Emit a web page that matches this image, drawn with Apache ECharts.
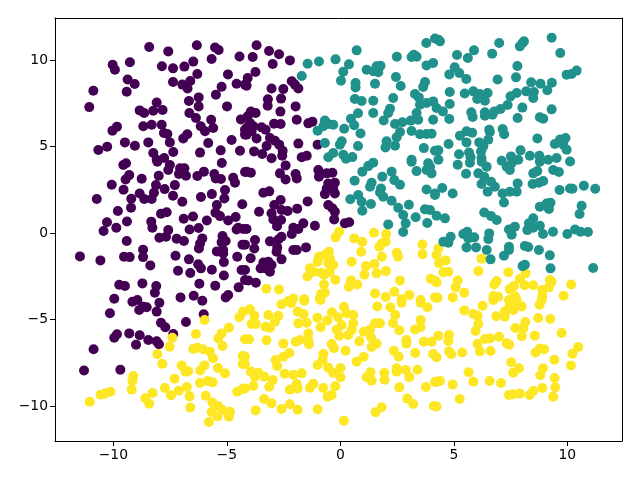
<!DOCTYPE html>
<html>
<head>
<meta charset="utf-8">
<script src="https://cdn.jsdelivr.net/npm/echarts@6/dist/echarts.min.js"></script>
<style>html,body{margin:0;padding:0;background:#fff}#c{width:641px;height:480px}</style>
</head>
<body>
<div id="c"></div>
<script>
const xTicks = [-10, -5, 0, 5, 10];
const yTicks = [-10, -5, 0, 5, 10];
const purple = [
[-8.42,10.75],[-7.58,10.5],[-6.32,10.85],[-5.52,10.73],[-5.36,10.58],[-5.67,10.06],[-4.44,10.2],[-9.27,9.87],[-10.03,9.73],[-9.93,9.44],[-7.86,9.64],[-7.37,9.52],[-6.87,9.62],[-6.48,9.91],[-6.3,9.19],[-4.95,9.17],[-9.37,8.88],[-9.06,8.61],[-7.37,8.73],[-6.96,8.58],[-6.61,8.79],[-6.73,8.35],[-4.57,8.63],[-4.2,8.58],[-5.23,8.46],[-10.88,8.23],[-9.41,8.17],[-5.48,8.0],[-6.24,7.84],[-6.67,7.63],[-11.06,7.28],[-8.09,7.55],[-6.24,7.32],[-4.99,7.32],[-8.84,7.09],[-8.64,6.94],[-8.24,7.07],[-7.83,7.11],[-6.65,6.94],[-6.36,6.65],[-5.69,6.55],[-4.38,6.57],[-6.15,6.17],[-5.6,6.07],[-5.96,5.88],[-9.84,6.15],[-10.04,5.92],[-8.68,6.17],[-8.31,6.26],[-7.87,6.26],[-7.77,5.78],[-7.62,5.72],[-6.74,5.71],[-6.92,5.47],[-4.2,5.97],[-4.2,5.69],[-4.79,5.38],[-8.46,5.24],[-7.51,5.24],[-9.49,5.24],[-9.05,5.05],[-10.27,4.99],[-10.66,4.8],[-5.82,5.2],[-6.18,4.65],[-5.27,4.78],[-4.42,4.76],[-8.24,4.63],[-7.36,4.68],[-7.76,4.34],[-8.09,4.24],
[-3.69,10.85],[-3.14,10.52],[-2.7,10.33],[-3.86,10.18],[-2.98,9.77],[-2.22,9.98],[-3.74,9.31],[-4.08,8.96],[-4.13,8.52],[-2.14,8.77],[-2.0,8.58],[-1.85,8.35],[-3.03,8.36],[-2.51,8.33],[-3.19,7.73],[-2.61,7.77],[-3.2,7.36],[-1.97,7.32],[-2.64,7.02],[-3.94,7.03],[-3.73,6.94],[-4.08,6.75],[-1.92,6.55],[-1.41,6.34],[-1.23,6.44],[-2.92,6.32],[-2.63,6.3],[-3.98,6.36],[-3.83,6.17],[-4.13,6.07],[-3.91,5.88],[-4.13,5.69],[-3.47,6.11],[-3.29,5.97],[-3.69,5.47],[-3.1,5.49],[-2.88,5.34],[-2.69,5.11],[-3.25,5.03],[-1.85,5.17],[-1.0,5.11],[-3.8,4.72],[-3.44,4.57],[-2.54,4.76],[-2.56,4.47],[-3.03,4.32],[-1.7,4.38],[-1.48,4.47],
[-9.56,3.93],[-9.44,4.03],[-8.06,4.12],[-7.51,3.93],[-7.58,3.64],[-7.06,3.74],[-6.87,3.74],[-7.11,3.41],[-6.8,3.31],[-8.0,3.31],[-9.3,3.35],[-9.46,3.1],[-8.75,3.14],[-6.3,3.3],[-6.01,3.55],[-5.55,3.41],[-5.49,3.16],[-5.26,3.12],[-5.22,4.05],[-4.72,3.2],[-4.64,2.91],[-4.2,3.53],[-10.07,2.79],[-9.55,2.5],[-8.12,2.77],[-7.74,2.54],[-7.29,2.77],[-8.84,2.29],[-8.21,2.33],[-7.37,2.16],[-5.08,2.49],[-5.66,2.25],[-6.14,2.08],[-5.11,2.0],[-10.73,1.97],[-9.21,1.98],[-8.64,1.97],[-8.31,1.97],[-6.96,1.81],[-5.44,1.62],[-4.32,1.66],[-9.22,1.46],[-9.8,1.27],[-7.9,1.12],[-7.65,1.2],[-5.5,1.18],[-5.3,0.98],[-6.49,0.96],[-6.9,0.83],[-5.88,0.73],[-4.94,0.73],[-4.61,0.93],[-10.28,0.62],[-9.4,0.67],[-8.33,0.66],[-9.87,0.31],[-10.43,0.12],[-8.28,0.31],[-7.58,0.17],[-6.64,0.21],[-6.24,0.29],[-4.5,0.31],[-4.57,0.21],[-4.28,0.23],[-7.68,-0.21],[-7.97,-0.27],[-7.21,-0.33],[-6.89,-0.46],[-9.41,-0.46],[-6.08,-0.31],[-6.18,-0.6],[-5.19,-0.17],[-5.05,-0.46],[-5.23,-0.54],[-4.31,-0.67],[-6.23,-0.89],[-8.69,-0.96],[-5.44,-1.06],[-5.16,-0.98],[-5.16,-1.18],[-11.47,-1.35],[-10.57,-1.58],[-9.53,-1.37],[-9.28,-1.39],[-8.69,-1.39],[-7.26,-1.31],[-6.67,-1.52],[-4.54,-1.37],[-5.13,-1.68],[-8.37,-1.87],[-6.26,-1.81],[-6.14,-2.04],[-5.66,-2.12],[-7.15,-2.18],[-6.61,-2.31],[-4.35,-2.14],[-5.13,-2.45],[-9.74,-2.99],[-9.49,-3.06],[-8.72,-2.91],[-8.11,-3.06],[-8.17,-3.45],[-6.21,-2.93],[-5.51,-3.04],[-4.48,-3.14],[-4.2,-2.72],[-9.96,-3.8],[-9.16,-3.97],[-8.94,-3.87],[-7.04,-3.72],[-6.46,-3.62],[-6.08,-3.91],[-4.94,-3.58],[-5.05,-3.72],[-7.97,-4.03],
[-8.68,-4.26],[-8.53,-4.29],[-8.86,-4.45],[-8.09,-4.54],[-10.15,-4.64],[-6.02,-4.7],[-6.8,-5.14],[-7.9,-5.18],[-7.71,-5.45],[-7.36,-5.84],[-9.3,-5.8],[-9.84,-5.85],[-9.96,-6.05],[-8.84,-5.91],[-8.46,-6.18],[-8.09,-6.26],[-7.99,-6.43],[-9.0,-6.45],[-10.87,-6.72],[-11.29,-7.94],[-9.69,-7.9],
[-4.13,3.55],[-3.94,3.49],[-2.41,3.91],[-2.66,3.45],[-2.41,3.1],[-1.97,3.41],[-1.92,3.16],[-0.97,3.64],[-0.94,3.26],[-0.6,3.45],[-0.35,3.49],[-0.53,2.87],[-0.24,2.91],[-0.6,2.58],[-0.31,2.52],[-0.68,2.25],[-0.24,2.29],[-3.39,2.33],[-3.13,2.41],[-2.63,1.91],[-2.91,1.62],[-1.44,1.83],[-1.9,1.41],[-2.59,1.33],[-2.32,1.27],[-3.58,1.23],[-3.03,1.14],[-2.95,0.79],[-2.61,0.75],[-2.79,0.39],[-0.53,1.62],[-0.35,1.43],[-0.24,1.23],[-0.27,0.79],[0.2,0.56],[0.39,0.62],[-1.63,0.56],[-1.12,0.42],[-2.07,0.31],[-1.85,0.23],[-2.14,-0.06],[-4.13,0.23],[-3.76,-0.4],[-4.2,-0.67],[-3.1,-0.48],[-2.59,-0.21],[-2.73,-0.37],[-3.79,-0.89],[-2.78,-0.83],[-2.81,-1.08],[-1.51,-0.83],[-2.07,-0.98],[-1.92,-0.98],[-3.95,-1.46],[-2.59,-1.52],[-3.39,-1.7],[-3.17,-1.66],[-3.03,-1.85],[-3.51,-2.04],[-3.29,-2.04],[-3.1,-2.24],[-4.2,-2.14],[-4.05,-2.74],[-3.72,-2.87]
];
const teal = [
[0.72,10.56],[-1.44,9.79],[-0.94,9.92],[-0.21,10.04],[0.38,9.75],[0.13,9.33],[0.03,8.81],[-1.7,9.08],[1.16,9.44],[1.45,9.35],[1.6,9.64],[1.77,9.67],[1.67,9.29],[2.49,10.19],[3.14,10.18],[3.24,10.31],[3.36,10.19],[3.79,10.98],[4.17,11.24],[3.8,9.69],[4.09,9.83],[2.45,9.02],[2.66,8.5],[1.53,8.63],[0.67,8.67],[0.67,8.42],[3.73,8.73],[3.65,8.44],[2.33,7.81],[0.64,7.75],[0.94,7.63],[1.45,7.65],[3.29,8.04],[3.46,7.84],[3.51,7.42],[3.8,7.52],[4.09,7.61],[2.19,7.19],[2.11,6.94],[0.78,6.92],[1.45,6.94],[3.36,6.94],[0.47,6.61],[1.91,6.51],[2.41,6.3],[2.73,6.4],[3.1,6.5],[3.43,6.55],[4.09,6.55],[0.61,6.23],[-0.68,6.51],[-0.53,6.3],[-0.31,6.26],[-0.75,6.17],[-1.0,5.92],[0.17,6.03],[0.89,5.76],[2.63,5.84],[3.14,5.9],[3.51,5.71],[3.8,5.72],[4.02,5.74],[2.48,5.53],[-0.68,5.2],[0.06,5.3],[-0.02,5.11],[0.78,5.03],[2.04,5.3],[1.99,4.95],[2.41,5.05],[3.68,4.91],[-0.31,4.63],[-0.53,4.38],[0.13,4.53],[0.53,4.39],[0.25,4.3],[3.14,4.24],[4.17,4.76],
[4.32,11.18],[4.39,11.08],[5.14,10.29],[5.89,10.56],[5.62,10.12],[7.0,10.98],[6.69,10.37],[8.09,11.08],[8.02,10.97],[7.91,10.79],[9.31,11.29],[9.69,10.41],[5.04,9.58],[5.24,9.25],[4.8,9.17],[5.55,8.9],[7.8,9.66],[7.74,9.0],[6.93,8.88],[10.41,9.39],[10.19,9.19],[9.97,9.15],[8.41,8.71],[8.82,8.63],[9.32,8.69],[4.82,8.15],[5.48,8.07],[5.86,8.19],[6.15,8.04],[6.49,8.09],[6.03,7.75],[6.37,7.65],[7.77,8.09],[7.5,7.9],[8.19,8.19],[8.53,8.15],[8.5,7.81],[9.12,8.25],[4.82,7.46],[7.37,7.4],[8.02,7.25],[7.06,7.17],[6.78,7.03],[6.7,6.84],[6.37,6.98],[6.37,6.78],[9.31,7.15],[5.77,6.98],[5.83,6.71],[7.81,6.65],[8.79,6.69],[8.94,6.61],[4.52,7.03],[4.24,7.23],[4.8,6.59],[6.56,5.97],[6.59,5.84],[7.15,6.01],[7.22,5.71],[5.56,5.88],[5.81,5.8],[5.27,5.63],[5.56,5.24],[6.52,5.4],[6.12,5.24],[6.3,5.01],[4.77,5.15],[8.68,5.47],[9.92,5.49],[9.68,5.4],[9.45,5.15],[9.82,5.11],[9.97,4.82],[4.32,4.78],[5.23,4.55],[5.67,4.66],[5.74,4.38],[6.2,4.72],[6.22,4.34],[7.94,4.78],[7.52,4.43],[8.35,4.47],[8.77,4.47],[9.53,4.34],[7.11,4.18],[7.84,4.24],[9.16,4.24],[10.12,4.14],[4.32,4.24],
[1.45,4.07],[1.23,3.87],[0.97,3.55],[1.85,3.26],[2.26,3.55],[2.38,3.06],[2.63,2.79],[0.63,3.03],[1.38,2.91],[1.31,2.68],[1.79,2.58],[1.75,2.35],[1.89,2.1],[2.26,1.87],[0.79,2.2],[0.44,1.95],[0.94,1.81],[1.35,1.68],[0.97,1.29],[3.02,1.64],[2.55,1.46],[2.77,1.04],[3.32,0.91],[3.73,1.37],[3.95,1.33],[3.83,0.58],[2.88,0.56],[2.11,0.5],[2.77,0.06],[3.36,3.58],[3.14,4.12],[3.87,4.03],[3.95,3.83],[3.8,3.64],[4.02,3.45],[3.8,2.52],[4.17,2.29],
[5.17,3.95],[5.71,4.07],[6.23,4.12],[6.45,3.83],[7.33,3.83],[7.47,3.64],[7.55,4.03],[8.79,4.12],[5.54,3.43],[6.08,3.45],[6.34,3.26],[6.22,2.83],[6.64,2.97],[6.81,2.68],[6.49,2.39],[8.5,3.45],[8.68,3.58],[9.38,3.64],[9.63,3.53],[8.47,2.83],[8.75,2.91],[8.94,3.01],[7.81,2.87],[7.77,2.39],[7.47,2.39],[7.15,2.29],[7.21,1.77],[9.66,2.49],[10.12,2.58],[10.23,2.56],[10.73,2.74],[11.23,2.56],[4.49,2.6],[4.95,2.29],[4.17,2.2],[6.34,1.19],[6.64,0.98],[6.89,0.75],[4.24,1.0],[4.61,0.85],[8.79,1.52],[9.09,1.71],[9.26,1.75],[9.19,1.39],[10.63,1.58],[10.54,1.1],[8.5,0.85],[8.31,0.56],[8.79,0.42],[8.24,0.17],[8.5,0.31],[7.69,0.37],[7.43,0.21],[7.55,-0.1],[8.93,-0.06],[9.37,0.08],[10.0,-0.06],[10.34,0.21],[10.58,0.08],[10.91,0.06],[5.59,0.08],[5.42,-0.06],[5.64,-0.31],[5.9,-0.25],[6.56,-0.02],[6.52,-0.35],[4.86,-0.21],[4.54,-0.5],[4.76,-0.56],[5.56,-0.83],[5.98,-0.83],[6.45,-0.98],[7.43,-0.79],[7.43,-0.98],[8.13,-0.75],[8.28,-0.81],[8.75,-0.98],[9.23,-1.29],[7.21,-1.31],[6.62,-1.52],[8.13,-1.83],[8.03,-1.91],[9.26,-2.04],[11.14,-2.02]
];
const yellow = [
[-5.98,-5.03],[-4.45,-4.87],[-4.28,-4.54],[-4.91,-5.47],[-5.23,-5.8],[-5.38,-6.09],[-6.36,-5.84],[-7.4,-6.05],[-7.52,-6.57],[-5.19,-6.53],[-6.48,-6.7],[-6.3,-6.63],[-6.05,-6.72],[-5.74,-6.86],[-5.61,-7.24],[-4.2,-6.14],[-4.3,-7.11],[-4.3,-7.57],[-8.06,-7.01],[-7.84,-7.55],[-6.99,-7.65],[-6.82,-8.01],[-6.7,-7.99],[-5.99,-7.65],[-6.17,-7.94],[-5.39,-7.8],[-5.08,-8.11],[-9.12,-8.26],[-9.16,-8.55],[-9.19,-9.05],[-7.3,-8.42],[-7.73,-8.96],[-6.76,-8.9],[-7.12,-9.11],[-7.46,-9.38],[-8.27,-9.25],[-8.59,-9.55],[-8.42,-9.86],[-6.64,-9.44],[-6.61,-10.09],[-6.18,-8.67],[-5.85,-8.55],[-5.63,-8.63],[-5.93,-9.4],[-4.54,-9.17],[-4.32,-9.03],[-5.64,-9.79],[-5.38,-10.0],[-5.19,-10.23],[-4.86,-10.33],[-5.67,-10.34],[-5.41,-10.6],[-4.91,-10.61],[-5.79,-10.92],[-10.13,-9.17],[-10.37,-9.27],[-10.56,-9.34],[-11.04,-9.75],
[-2.59,-4.12],[-2.16,-4.04],[-1.59,-3.91],[-0.87,-3.87],[0.16,-4.26],[1.63,-4.24],[2.21,-4.29],[2.7,-4.02],[3.54,-4.02],[3.84,-4.29],[-3.98,-4.41],[-3.79,-4.78],[-3.17,-4.74],[-2.73,-4.78],[-1.88,-4.54],[-1.62,-4.68],[-1.01,-4.89],[-0.37,-4.58],[-0.1,-4.87],[0.28,-4.64],[0.57,-4.74],[-0.57,-5.06],[2.42,-4.74],[3.54,-5.03],[-3.91,-5.26],[-3.72,-5.26],[-2.88,-5.12],[-3.29,-5.41],[-3.1,-5.47],[-1.85,-5.22],[-1.48,-5.18],[-0.87,-5.45],[0.06,-5.32],[0.57,-5.22],[-0.16,-5.57],[1.75,-5.22],[1.53,-5.22],[1.31,-5.57],[1.03,-5.7],[2.32,-5.2],[2.6,-5.62],[3.29,-5.57],[3.54,-5.45],[-1.41,-5.8],[0.5,-5.6],[0.35,-5.89],[-0.05,-5.93],[-4.02,-6.14],[-3.25,-6.2],[-2.51,-6.39],[-1.97,-6.28],[-1.78,-6.18],[-1.41,-6.18],[-1.38,-6.43],[-0.38,-6.41],[-0.28,-6.66],[0.84,-6.26],[1.35,-6.03],[1.6,-6.39],[1.38,-6.59],[2.91,-6.18],[2.91,-6.39],[3.68,-6.28],[4.02,-6.28],[0.23,-6.8],[2.36,-6.8],[2.57,-7.15],[3.3,-6.93],[4.09,-6.99],[-2.25,-6.93],[-2.51,-7.15],[-2.85,-7.34],[-2.78,-7.69],[-0.75,-6.99],[-0.78,-7.34],[-1.0,-7.63],[1.03,-7.15],[0.72,-7.43],[-4.2,-7.15],[-4.2,-7.57],[-0.53,-7.78],[0.01,-7.8],[-0.31,-8.09],[0.01,-8.34],[-3.94,-8.01],[-3.61,-8.07],[-3.76,-8.3],[-3.35,-8.3],[-2.98,-8.5],[-2.45,-8.13],[-2.07,-8.19],[-1.7,-8.11],[1.33,-8.05],[1.16,-8.34],[1.38,-8.53],[1.94,-8.09],[1.95,-8.48],[2.48,-7.82],[2.48,-8.01],[2.88,-7.92],[3.04,-8.34],[3.4,-7.9],[-3.83,-8.84],[-3.13,-8.88],[-4.2,-8.98],[-2.22,-9.05],[-1.92,-8.73],[-1.88,-8.98],[-1.19,-8.71],[-1.34,-8.94],[-0.75,-8.96],[-0.22,-8.86],[2.6,-8.92],[3.77,-8.9],[4.17,-8.61],[-0.38,-9.36],[-0.56,-9.46],[-3.36,-9.59],[-3.03,-9.84],[-2.22,-9.9],[-3.73,-10.25],[-2.59,-10.17],[-1.88,-10.21],[-1.0,-10.19],[2.95,-9.57],[3.21,-9.88],[4.12,-10.0],[1.82,-10.07],[1.55,-10.36],[0.16,-10.85],
[5.46,-4.47],[6.27,-4.2],[5.86,-4.68],[6.05,-4.78],[6.87,-4.81],[7.25,-4.54],[7.47,-4.06],[7.69,-4.06],[7.43,-4.35],[7.62,-4.45],[7.25,-4.83],[7.99,-4.24],[8.78,-4.14],[8.72,-4.91],[9.25,-4.97],[6.08,-5.26],[5.96,-5.66],[8.15,-5.14],[7.71,-5.49],[8.06,-5.51],[8.0,-5.97],[8.57,-5.93],[9.75,-5.78],[4.32,-5.93],[4.79,-5.89],[4.76,-6.24],[6.37,-6.12],[6.59,-6.09],[6.99,-5.99],[6.05,-6.41],[7.33,-6.37],[7.44,-6.45],[10.48,-6.59],[10.23,-6.97],[4.79,-6.84],[4.89,-7.01],[5.37,-6.9],[6.15,-6.84],[6.62,-6.82],[8.6,-6.9],[8.79,-6.68],[8.98,-6.72],[9.43,-7.32],[4.24,-7.18],[7.53,-7.47],[10.16,-7.65],[7.87,-7.82],[7.62,-8.07],[5.65,-8.05],[8.93,-7.82],[8.81,-8.22],[9.44,-8.38],[9.47,-8.92],[8.9,-8.96],[5.86,-8.59],[6.58,-8.55],[7.08,-8.67],[4.39,-8.55],[4.24,-8.59],[4.95,-8.76],[8.5,-9.13],[8.34,-9.36],[7.91,-9.28],[7.43,-9.36],[7.62,-9.32],[9.38,-9.46],[5.26,-9.59],[4.24,-10.02],
[-0.05,0.08],[-0.21,-0.25],[0.61,-0.31],[0.97,-0.5],[1.48,0.02],[2.02,-0.06],[2.0,-0.5],[1.82,-0.6],[1.72,-0.79],[0.92,-1.08],[3.62,-0.66],[3.62,-1.23],[2.49,-1.14],[2.54,-1.37],[1.83,-1.37],[-0.5,-1.08],[-0.68,-1.27],[-0.94,-1.37],[-1.0,-1.66],[-0.46,-1.46],[-0.31,-1.85],[-0.53,-1.75],[0.5,-1.66],[1.5,-1.79],[1.13,-1.91],[-1.34,-2.04],[-1.19,-2.24],[-1.45,-2.51],[-0.85,-2.29],[-0.71,-2.43],[-0.47,-2.24],[2.01,-2.2],[1.6,-2.33],[1.06,-2.41],[-0.22,-2.7],[-0.72,-2.97],[2.63,-2.74],[3.98,-2.64],[4.17,-2.76],[0.47,-2.74],[0.38,-3.1],[0.75,-2.97],[-3.26,-3.22],[-2.7,-3.26],[-0.68,-3.45],[-0.85,-3.53],[1.53,-3.49],[2.38,-3.39],[3.04,-3.58],[2.0,-3.7],[2.7,-3.82],[-2.07,-3.78],[-1.59,-3.82],[-0.9,-3.78],[-2.29,-3.93],[3.54,-3.87],[4.17,-3.72],
[4.32,-0.89],[4.24,-1.27],[4.64,-1.58],[4.35,-1.75],[6.22,-1.48],[6.08,-2.2],[4.54,-2.27],[4.76,-2.24],[7.4,-2.27],[8.16,-2.33],[7.91,-2.66],[6.89,-2.77],[6.78,-2.97],[5.17,-2.74],[4.24,-2.85],[5.08,-3.14],[9.23,-2.72],[9.31,-2.81],[9.19,-3.14],[8.12,-3.02],[8.5,-3.02],[7.65,-3.06],[7.46,-3.24],[8.9,-3.29],[8.9,-3.62],[10.17,-2.97],[9.84,-3.62],[5.46,-3.45],[4.95,-3.72],[4.29,-3.74],[6.74,-3.64],[6.96,-3.68],[6.74,-3.87],[7.69,-3.64],[7.43,-3.87],[7.77,-3.87],[8.87,-3.87]
];
const chart = echarts.init(document.getElementById('c'), null, {renderer: 'canvas'});
const fmt = v => String(v).replace('-', '\u2212');
const xRange = {min: -12.57, max: 12.41};
const yRange = {min: -12.02, max: 12.43};
const axisCommon = {
  type: 'value',
  splitLine: {show: false},
  axisLine: {show: true, onZero: false, lineStyle: {color: '#000', width: 1}}
};
const frameAxis = Object.assign({}, axisCommon, {axisTick: {show: false}, axisLabel: {show: false}});
const tickStyle = {show: true, length: 5, inside: false, lineStyle: {color: '#000', width: 1}};
const labelStyle = {fontFamily: 'DejaVu Sans', fontSize: 13.9, color: '#000', formatter: fmt};
const mk = (name, data, color) => ({
  name, type: 'scatter', data, symbol: 'circle', symbolSize: 10,
  itemStyle: {color, opacity: 1}, animation: false, silent: true, clip: false
});
chart.setOption({
  animation: false,
  backgroundColor: '#fff',
  grid: {left: 55, right: 19, top: 18, bottom: 39, show: false},
  xAxis: [
    Object.assign({}, axisCommon, xRange, {position: 'bottom',
      axisTick: Object.assign({}, tickStyle, {customValues: xTicks}),
      axisLabel: Object.assign({}, labelStyle, {margin: 7, customValues: xTicks})}),
    Object.assign({}, frameAxis, xRange, {position: 'top'})
  ],
  yAxis: [
    Object.assign({}, axisCommon, yRange, {position: 'left',
      axisTick: Object.assign({}, tickStyle, {customValues: yTicks}),
      axisLabel: Object.assign({}, labelStyle, {margin: 7, padding: [2, 0, 0, 0], customValues: yTicks})}),
    Object.assign({}, frameAxis, yRange, {position: 'right'})
  ],
  series: [mk('a', purple, '#440154'), mk('c', yellow, '#fde725'), mk('b', teal, '#21918c')]
});
</script>
</body>
</html>
